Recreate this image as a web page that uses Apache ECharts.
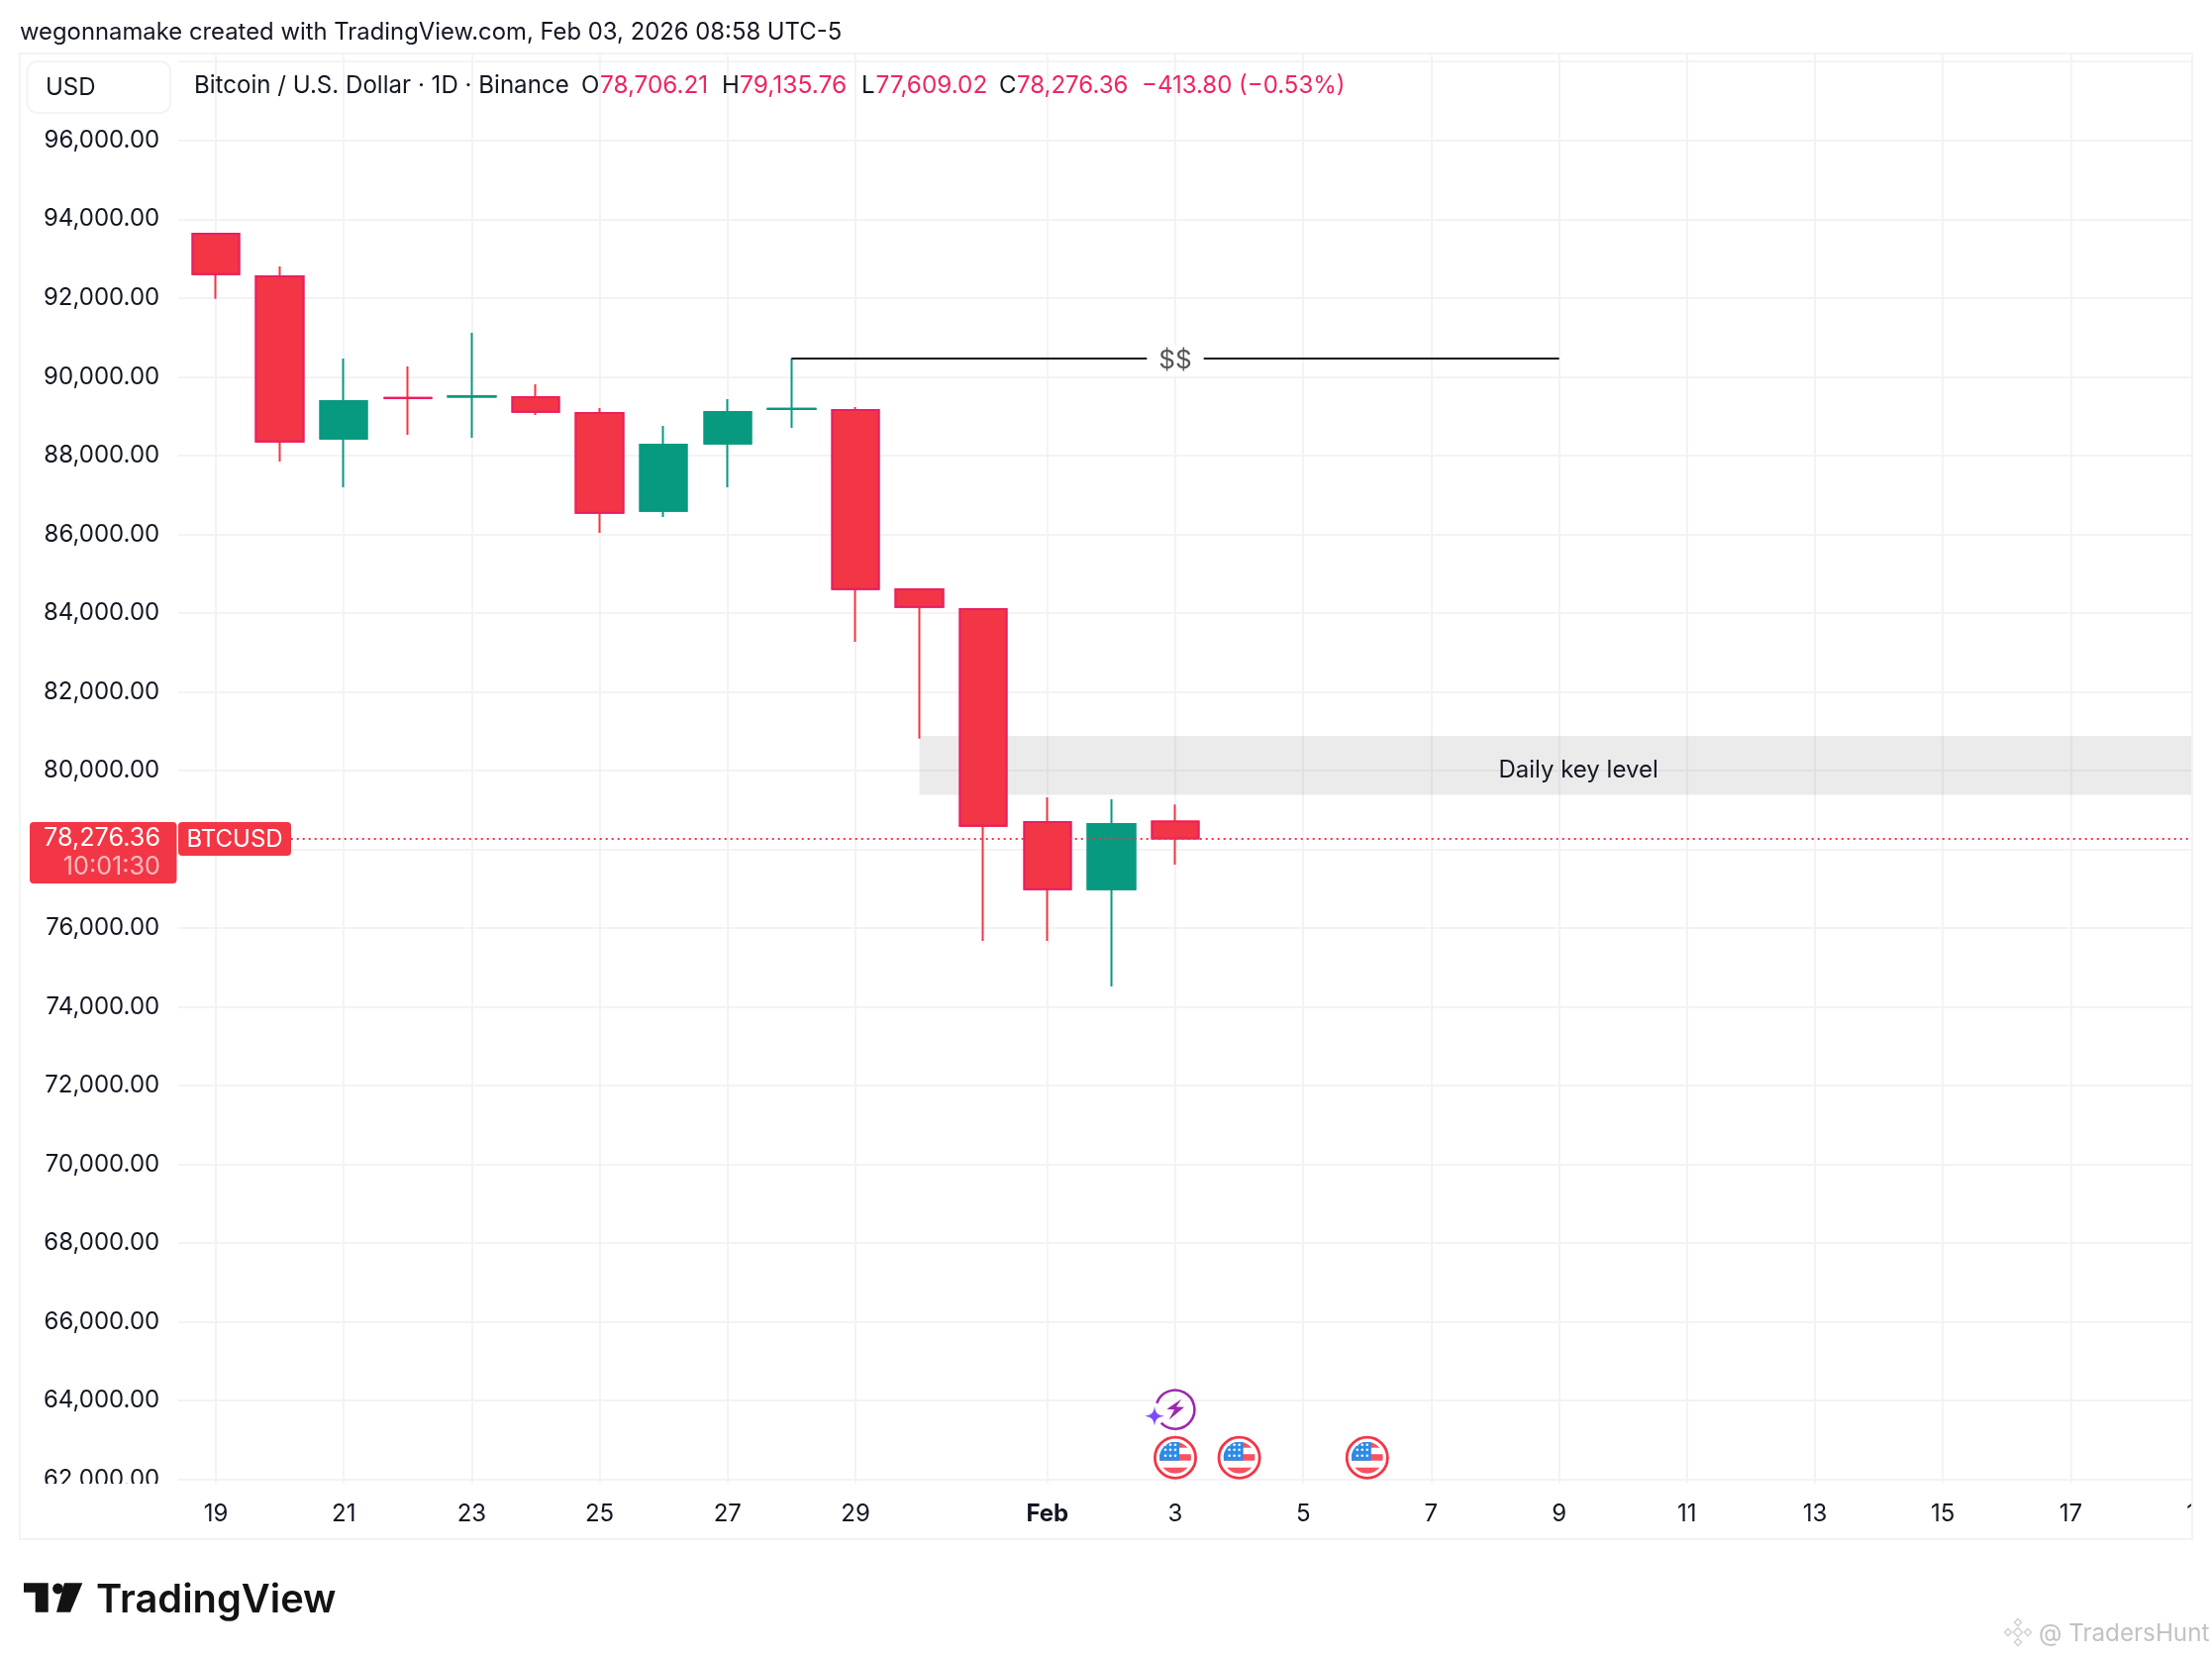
<!DOCTYPE html>
<html>
<head>
<meta charset="utf-8">
<style>html,body{margin:0;padding:0;background:#fff}#c{width:2234px;height:1674px}</style>
<script src="https://cdn.jsdelivr.net/npm/echarts@6/dist/echarts.min.js"></script>
</head>
<body>
<div id="c"></div>
<script>
// ---- data ----
const categories = ['19','20','21','22','23','24','25','26','27','28','29','30','31','Feb','2','3','4','5','6','7','8','9','10','11','12','13','14','15','16','17','18','19'];
const shownTicks = [0,2,4,6,8,10,13,15,17,19,21,23,25,27,29,31];
const opens  = [93629,92547,88430,89462,89495,89479,89077,86595,88305,89175,89152,84600,84096,78691,76988,78706.21];
const closes = [92605,88355,89379,89452,89505,89109,86544,88272,89102,89185,84608,84155,78597,76988,78641,78276.36];
const lows   = [91976,87845,87190,88523,88448,89026,86034,86436,87190,88699,83268,80811,75673,75673,74516,77609.02];
const highs  = [93629,92799,90460,90259,91114,89806,89202,88750,89429,90467,89228,84625,84121,79319,79269,79135.76];
const levelTop = 80880, levelBottom = 79380, levelFrom = 11, levelTo = 31;
const liquidityLevel = 90467, liquidityFrom = 9, liquidityTo = 21;
const lastPrice = 78276.36;
const flagEvents = [[15,62553],[16,62553],[18,62553]];
const flashEvents = [[15,63785]];
const yMin = 62000, yMax = 98000, yStep = 2000;

// ---- styles ----
const FONT = 'Inter';
const RED = '#F23645', PINK = '#E91E63', GREEN = '#089981', INK = '#131722', GRID = '#f3f3f3';
const GRID_L = 185.7, BAND = 64.6, GRID_T = 62.2, GRID_H = 1431.5;

const svg = s => 'image://data:image/svg+xml;charset=utf-8,' + encodeURIComponent(s);
const star = (x,y) => `<circle cx="${x}" cy="${y}" r="1.3" fill="#fff"/>`;
const flagIcon = svg(`<svg xmlns="http://www.w3.org/2000/svg" width="46" height="46" viewBox="0 0 46 46">
<defs><clipPath id="f"><circle cx="23" cy="23" r="16"/></clipPath></defs>
<circle cx="23" cy="23" r="20.6" fill="#fff" stroke="#F23645" stroke-width="2.8"/>
<g clip-path="url(#f)"><rect x="7" y="7" width="32" height="32" fill="#fff"/>
<rect x="7" y="7" width="32" height="6" fill="#F7525F"/><rect x="7" y="19.5" width="32" height="6.5" fill="#F7525F"/><rect x="7" y="33" width="32" height="6" fill="#F7525F"/>
<rect x="7" y="7" width="20" height="19" fill="#2B8CE8"/>
${[13,18,23].map(x=>[10,15,21].map(y=>star(x,y)).join('')).join('')}</g></svg>`);
const flashIcon = svg(`<svg xmlns="http://www.w3.org/2000/svg" width="64" height="48" viewBox="0 0 64 48">
<path d="M21.3 18 A 19.6 19.6 0 1 1 25.7 38" fill="none" stroke="#9C27B0" stroke-width="2.6"/>
<path d="M46.3 13.7 L31.3 24 L39 24.5 L33.7 34.7 L49 22 L41 21.5 Z" fill="#9C27B0"/>
<path d="M19 21 C20 28 22 30 29 31 C22 32 20 34 19 41 C18 34 16 32 9 31 C16 30 18 28 19 21 Z" fill="#7C4DFF"/></svg>`);

const g = [];
const rect = (x,y,w,h,fill,z,r,stroke) => g.push({type:'rect',z:z||50,silent:true,shape:{x,y,width:w,height:h,r:r||0},style:{fill:fill,stroke:stroke||null,lineWidth:stroke?2:0}});
const text = (s,x,y,fill,size,align,weight) => g.push({type:'text',z:120,silent:true,x,y,style:{text:s,fill:fill,font:(weight||400)+' '+size+'px '+FONT,textAlign:align||'left',textVerticalAlign:'middle'}});
const poly = (pts,fill,stroke) => g.push({type:'polygon',z:120,silent:true,shape:{points:pts},style:{fill:fill||null,stroke:stroke||null,lineWidth:stroke?1.6:0}});

// clipping masks and frame
rect(2215,40,19,1530,'#fff',90);
rect(25,1498,152,15,'#fff',90);
rect(20,54,2194,1500,'none',95,0,'#f3f3f3');
// usd button
rect(27.5,62,144.5,52,'#fff',96,10,'#f3f3f3');
text('USD',46,88.5,INK,24);
// header
text('wegonnamake created with TradingView.com, Feb 03, 2026 08:58 UTC-5',20,33,INK,23.85);
text('Bitcoin / U.S. Dollar · 1D · Binance',196,87,INK,24.1);
const LEG='#EE2560';
text('O',587,87,INK,24); text('78,706.21',606,87,LEG,24.3);
text('H',729,87,INK,24); text('79,135.76',747,87,LEG,24.6);
text('L',870,87,INK,24); text('77,609.02',884.5,87,LEG,24.3);
text('C',1009,87,INK,24); text('78,276.36',1027,87,LEG,24);
text('−413.80 (−0.53%)',1153,87,LEG,24);
// price tags
rect(30,830,148.5,62,RED,100,4);
rect(180,830,114,34,RED,100,4);
text(lastPrice.toLocaleString('en-US',{minimumFractionDigits:2}),162,846.5,'#fff',25.2,'right');
text('10:01:30',162,875,'rgba(255,255,255,0.66)',25.2,'right');
text('BTCUSD',237,848,'#fff',24,'center');
// logo
poly([[24,1598.3],[48.7,1598.3],[48.7,1627.7],[35.7,1627.7],[35.7,1607.7],[24,1607.7]],'#131313');
g.push({type:'circle',z:120,silent:true,shape:{cx:58.5,cy:1604,r:5.4},style:{fill:'#131313'}});
poly([[65,1598.3],[83.3,1598.3],[71,1627.7],[57,1627.7]],'#131313');
text('TradingView',97,1616,'#131313',39.8,'left',600);
// watermark
const bx=2038,by=1648;
[[0,0,4.5],[-10,0,3.5],[10,0,3.5],[0,-10,3.5],[0,10,3.5]].forEach(([dx,dy,r])=>poly([[bx+dx,by+dy-r],[bx+dx+r,by+dy],[bx+dx,by+dy+r],[bx+dx-r,by+dy]],null,'#d4d4d4'));
text('@ TradersHunt',2059,1649.5,'#c2c2c2',24.2);

const tickShown = i => shownTicks.includes(i);
const fmtY = v => v===yMax ? '' : v.toLocaleString('en-US',{minimumFractionDigits:2,maximumFractionDigits:2});

const wickData = opens.map((o,i)=>[o,closes[i],lows[i],highs[i]]);
const bodyData = opens.map((o,i)=>[o,closes[i],Math.min(o,closes[i]),Math.max(o,closes[i])]);
const candleBase = {type:'candlestick',barWidth:48,animation:false,silent:true,xAxisIndex:0,yAxisIndex:0};

const option = {
  animation:false,
  backgroundColor:'#fff',
  textStyle:{fontFamily:FONT},
  tooltip:{show:false},
  graphic:{elements:g},
  grid:[
    {left:GRID_L,top:GRID_T,width:BAND*32,height:GRID_H,containLabel:false,outerBoundsMode:'none'},
    {left:180,top:GRID_T,width:GRID_L-180,height:GRID_H,containLabel:false,outerBoundsMode:'none'}
  ],
  xAxis:[
    {type:'category',gridIndex:0,data:categories,boundaryGap:true,
     axisLine:{show:false},
     axisTick:{show:true,alignWithLabel:true,length:4,interval:tickShown,lineStyle:{color:GRID,width:2}},
     splitLine:{show:true,alignWithLabel:true,interval:tickShown,lineStyle:{color:GRID,width:2}},
     axisLabel:{show:true,interval:tickShown,margin:23,color:INK,fontFamily:FONT,fontSize:24,hideOverlap:false,
       formatter:v=>v==='Feb'?'{b|Feb}':v,rich:{b:{fontWeight:700,fontSize:24,fontFamily:FONT,color:INK}}}},
    {type:'category',gridIndex:0,position:'top',data:categories,boundaryGap:true,
     axisLine:{show:false},axisLabel:{show:false},splitLine:{show:false},
     axisTick:{show:true,alignWithLabel:true,length:8,interval:tickShown,lineStyle:{color:GRID,width:2}}},
    {type:'category',gridIndex:1,data:[''],axisLine:{show:false},axisTick:{show:false},axisLabel:{show:false},splitLine:{show:false}}
  ],
  yAxis:[
    {type:'value',gridIndex:0,min:yMin,max:yMax,interval:yStep,scale:true,
     axisLine:{show:false},axisTick:{show:false},
     splitLine:{show:true,lineStyle:{color:GRID,width:2}},
     axisLabel:{margin:24.5,color:INK,fontFamily:FONT,fontSize:24,formatter:fmtY,showMinLabel:true,showMaxLabel:true,padding:[1.5,0,0,0]}},
    {type:'value',gridIndex:1,min:yMin,max:yMax,interval:yStep,scale:true,
     axisLine:{show:false},axisTick:{show:false},axisLabel:{show:false},
     splitLine:{show:true,lineStyle:{color:GRID,width:2}}}
  ],
  series:[
    Object.assign({},candleBase,{
      name:'wicks',z:3,data:wickData,
      itemStyle:{color:GREEN,color0:RED,borderColor:GREEN,borderColor0:RED,borderWidth:2},
      markArea:{silent:true,animation:false,itemStyle:{color:'rgba(0,0,0,0.08)'},
        label:{show:true,position:'inside',offset:[19.5,5],formatter:'Daily key level',color:INK,fontFamily:FONT,fontSize:24},
        data:[[{coord:[levelFrom,levelTop]},{coord:[levelTo,levelBottom]}]]},
      markLine:{silent:true,animation:false,symbol:'none',
        lineStyle:{color:INK,width:2,type:'solid'},
        label:{show:true,position:'middle',formatter:'$$',color:'#555',fontFamily:FONT,fontSize:26,backgroundColor:'#fff',padding:[2,12],distance:0,offset:[0,17]},
        data:[[{coord:[liquidityFrom,liquidityLevel]},{coord:[liquidityTo,liquidityLevel]}]]}
    }),
    Object.assign({},candleBase,{
      name:'bodies',z:4,data:bodyData,
      itemStyle:{color:GREEN,color0:RED,borderColor:GREEN,borderColor0:PINK,borderWidth:2},
      markLine:{silent:true,animation:false,symbol:'none',
        lineStyle:{color:RED,width:2,type:[2,4]},label:{show:false},
        data:[{yAxis:lastPrice}]}
    }),
    {type:'scatter',silent:true,animation:false,z:6,symbol:flagIcon,symbolSize:[46,46],data:flagEvents,clip:false,itemStyle:{opacity:1}},
    {type:'scatter',silent:true,animation:false,z:6,symbol:flashIcon,symbolSize:[64,48],symbolOffset:[-8,0],data:flashEvents,clip:false,itemStyle:{opacity:1}}
  ]
};
const chart = echarts.init(document.getElementById('c'),null,{renderer:'canvas',width:2234,height:1674});
chart.setOption(option);
</script>
</body>
</html>
